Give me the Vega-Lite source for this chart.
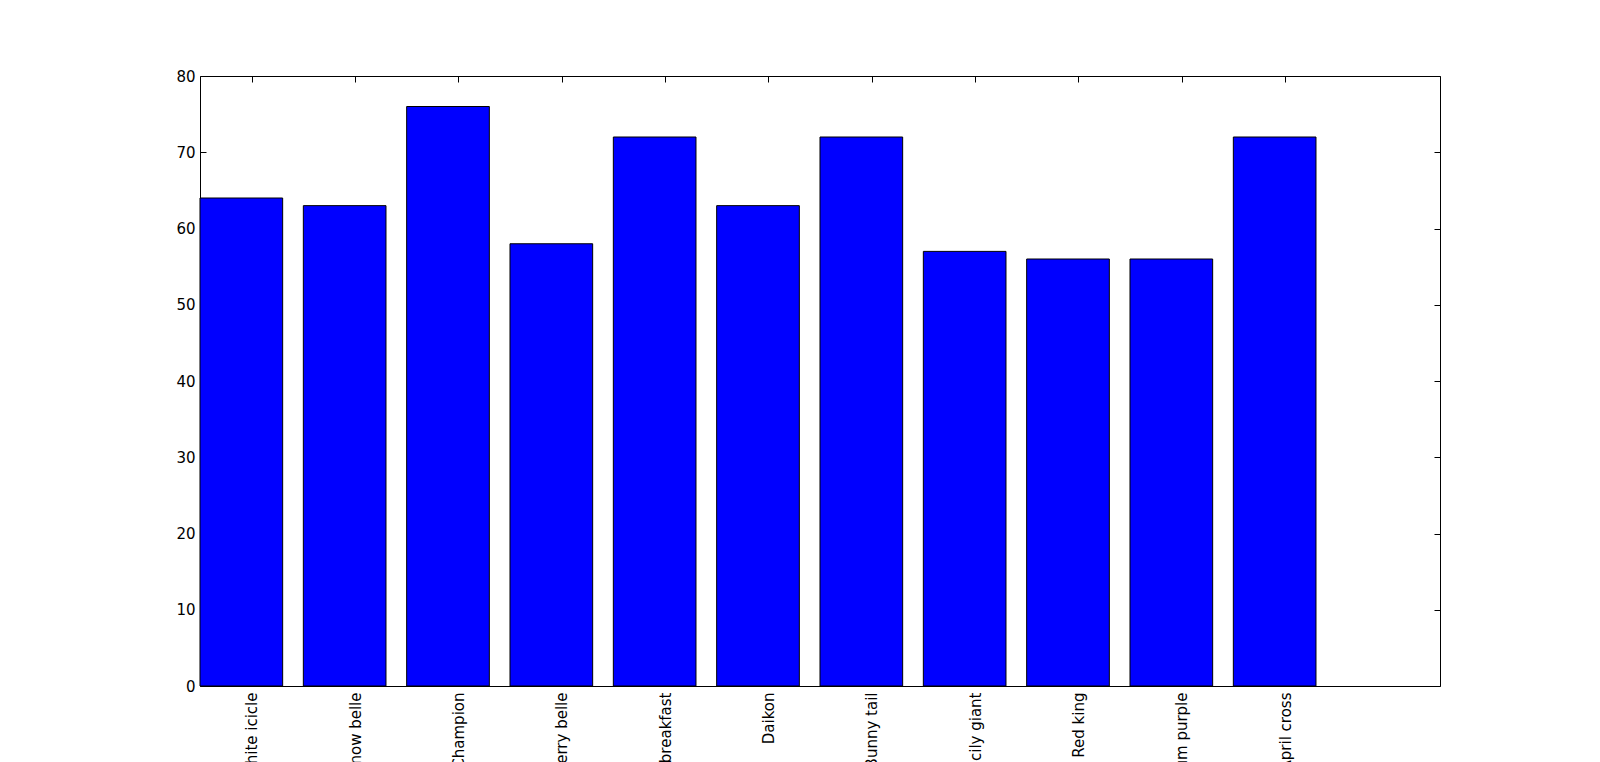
{
  "$schema": "https://vega.github.io/schema/vega-lite/v6.json",
  "width": 1240,
  "height": 610,
  "autosize": "none",
  "padding": {"left": 200, "top": 76, "right": 160, "bottom": 76},
  "background": "white",
  "config": {
    "view": {"stroke": "black", "strokeWidth": 1},
    "axis": {
      "labelFont": "DejaVu Sans",
      "labelFontSize": 15,
      "labelColor": "black",
      "tickColor": "black",
      "tickWidth": 1,
      "tickSize": -6,
      "domain": false,
      "grid": false,
      "title": null
    }
  },
  "data": {
    "values": [
      {"pos": 0, "variety": "White icicle", "votes": 64},
      {"pos": 1, "variety": "Snow belle", "votes": 63},
      {"pos": 2, "variety": "Champion", "votes": 76},
      {"pos": 3, "variety": "Cherry belle", "votes": 58},
      {"pos": 4, "variety": "French breakfast", "votes": 72},
      {"pos": 5, "variety": "Daikon", "votes": 63},
      {"pos": 6, "variety": "Bunny tail", "votes": 72},
      {"pos": 7, "variety": "Sicily giant", "votes": 57},
      {"pos": 8, "variety": "Red king", "votes": 56},
      {"pos": 9, "variety": "Plum purple", "votes": 56},
      {"pos": 10, "variety": "April cross", "votes": 72}
    ]
  },
  "layer": [
    {
      "mark": {"type": "bar", "color": "#0000ff", "stroke": "black", "strokeWidth": 1, "width": 82.67, "xOffset": 41.33},
      "encoding": {
        "x": {
          "field": "pos",
          "type": "quantitative",
          "scale": {"domain": [0, 12], "nice": false, "zero": false, "padding": 0},
          "axis": {
            "values": [0.5, 1.5, 2.5, 3.5, 4.5, 5.5, 6.5, 7.5, 8.5, 9.5, 10.5],
            "labelAngle": -90,
            "labelAlign": "right",
            "labelBaseline": "middle",
            "labelPadding": 12,
            "labelExpr": "['White icicle','Snow belle','Champion','Cherry belle','French breakfast','Daikon','Bunny tail','Sicily giant','Red king','Plum purple','April cross'][floor(datum.value)]"
          }
        },
        "y": {
          "field": "votes",
          "type": "quantitative",
          "scale": {"domain": [0, 80], "nice": false, "padding": 0},
          "axis": {"values": [0, 10, 20, 30, 40, 50, 60, 70, 80], "labelPadding": 11}
        }
      }
    },
    {
      "mark": {"type": "bar", "opacity": 0, "width": 82.67, "xOffset": 41.33},
      "encoding": {
        "x": {
          "field": "pos",
          "type": "quantitative",
          "scale": {"domain": [0, 12], "nice": false, "zero": false, "padding": 0},
          "axis": {"orient": "top", "values": [0.5, 1.5, 2.5, 3.5, 4.5, 5.5, 6.5, 7.5, 8.5, 9.5, 10.5], "labels": false}
        },
        "y": {
          "field": "votes",
          "type": "quantitative",
          "scale": {"domain": [0, 80], "nice": false, "padding": 0},
          "axis": {"orient": "right", "values": [0, 10, 20, 30, 40, 50, 60, 70, 80], "labels": false}
        }
      }
    }
  ],
  "resolve": {"axis": {"x": "independent", "y": "independent"}}
}
